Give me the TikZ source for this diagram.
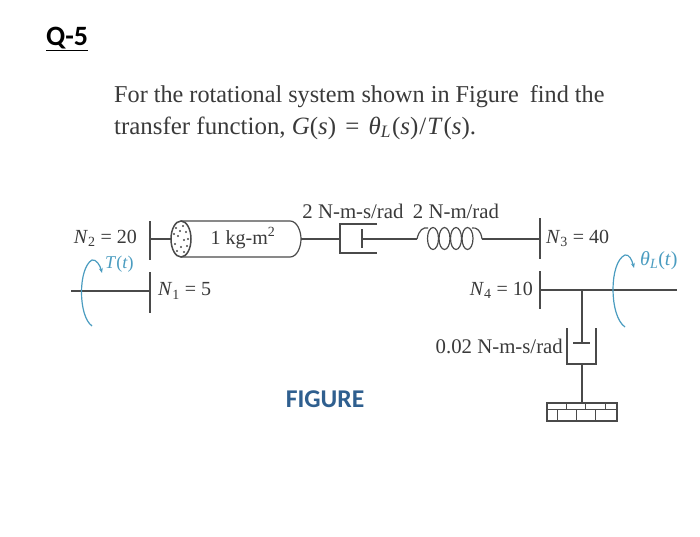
\documentclass[tikz,border=0pt]{standalone}
\usepackage{fontspec}
\setmainfont{Liberation Serif}
\newfontfamily\headfont{Carlito}
\usetikzlibrary{arrows.meta}
\definecolor{shaftgray}{HTML}{4A4A4A}
\definecolor{textgray}{HTML}{3A3A3A}
\definecolor{torqueblue}{HTML}{4A9CC0}
\definecolor{figblue}{HTML}{2F5F8F}
\begin{document}
\begin{tikzpicture}[
                x=1pt, y=-1pt, % pixel coordinates of the page
                every node/.style={inner sep=0pt, text=textgray},
                part/.style={draw=shaftgray, line width=1.2pt}, % Shafts, gears, dampers
                thinpart/.style={draw=shaftgray, line width=0.8pt}, % Bricks
                torque/.style={draw=torqueblue, line width=1.2pt, -{Stealth[length=5pt, width=4pt]}}, % Curved arrows
                bodytext/.style={anchor=west, font=\fontsize{24.2}{28}\selectfont},
                label/.style={font=\fontsize{20}{22}\selectfont},
                widelabel/.style={font=\fontsize{20.8}{22}\selectfont}
                ]
                \useasboundingbox (0,0) rectangle (700,537);
                \fill[white] (0,0) rectangle (700,537);
                % Texts
                \node[anchor=west, text=black, font=\headfont\bfseries\fontsize{28}{30}\selectfont] (title) at (46,39) {\underline{Q-5}};
                \node[bodytext] (line one) at (114,97) {For the rotational system shown in Figure\hspace{5pt} find the};
                \node[bodytext, font=\fontsize{24.9}{28}\selectfont] (line two) at (114,128) {transfer function, \textit{G}(\textit{s})\hspace{3pt} = \hspace{3pt}\textit{θ}\textsubscript{\textit{L}}\hspace{1pt}(\textit{s})\hspace{1pt}/\hspace{1pt}\textit{T}\hspace{1pt}(\textit{s}).};
                \node[text=figblue, font=\headfont\bfseries\fontsize{25.6}{27}\selectfont] (figure) at (325,399) {FIGURE};
                \node[label, anchor=east] (n two) at (137,238) {\textit{N}\textsubscript{2} = 20};
                \node[label, anchor=west] (n one) at (158,291) {\textit{N}\textsubscript{1} = 5};
                \node[label, anchor=east] (n four) at (533,290) {\textit{N}\textsubscript{4} = 10};
                \node[label, anchor=west] (n three) at (546,238) {\textit{N}\textsubscript{3} = 40};
                \node[label] (inertia) at (243,238) {1 kg-m\textsuperscript{2}};
                \node[widelabel] (damper one) at (353,211) {2 N-m-s/rad};
                \node[widelabel] (spring one) at (456,211) {2 N-m/rad};
                \node[widelabel, anchor=east] (damper two) at (563,346) {0.02 N-m-s/rad};
                \node[text=torqueblue, font=\fontsize{18}{20}\selectfont, anchor=west] (torque t) at (105,264) {\textit{T}(\textit{t})};
                \node[text=torqueblue, font=\fontsize{20}{22}\selectfont, anchor=west] (theta l) at (640,261) {\textit{θ}\textsubscript{\textit{L}}(\textit{t})};
                % Points on the shafts
                \coordinate (gear two) at (150,239);
                \coordinate (drum left) at (181,239);
                \coordinate (drum right) at (301,239);
                \coordinate (cup one) at (340,239);
                \coordinate (piston one) at (362,239);
                \coordinate (coil in) at (417,239);
                \coordinate (coil out) at (482,239);
                \coordinate (gear three) at (540,239);
                \coordinate (gear four) at (540,290);
                \coordinate (shaft end) at (677,290);
                \coordinate (tee) at (582,290);
                \coordinate (piston two) at (582,343);
                \coordinate (cup two) at (582,364);
                \coordinate (wall) at (582,403);
                \coordinate (gear one) at (150,291);
                \coordinate (shaft start) at (71,291);
                % Gears
                \draw[part] (150,221) -- (150,260);
                \draw[part] (150,272) -- (150,313);
                \draw[part] (540,218) -- (540,259);
                \draw[part] (540,271) -- (540,309);
                % Shafts
                \draw[part] (shaft start) -- (gear one);
                \draw[part] (gear two) -- (drum left);
                \draw[part] (drum right) -- (cup one);
                \draw[part] (piston one) -- (coil in);
                \draw[part] (coil out) -- (gear three);
                \draw[part] (gear four) -- (shaft end);
                \draw[part] (tee) -- (piston two);
                \draw[part] (cup two) -- (wall);
                % Inertia
                \draw[part] (181,221) -- (290,221) .. controls (297,221) and (301,231) .. (drum right) .. controls (301,247) and (297,257) .. (290,257) -- (181,257);
                \draw[part, line width=1.5pt, fill=white] (drum left) ellipse (10 and 18);
                \foreach \dotx/\doty in {176/228, 183/226, 186/232, 178/236, 184/240, 175/244, 181/247, 187/246, 177/251, 184/252, 174/234, 180/231, 188/239}
                    \fill[shaftgray] (\dotx,\doty) circle (1.2);
                % Damper 1
                \draw[part] (377,224) -- (340,224) -- (340,253) -- (377,253);
                \draw[part] (362,229) -- (362,248);
                % Spring
                \draw[part] (coil in) .. controls (419,230) and (423,227) .. (428,228);
                \draw[part] (472,228) .. controls (477,227) and (481,231) .. (coil out);
                \foreach \coilx in {433, 444.5, 456, 467.5}
                    \draw[part] (\coilx,238.5) ellipse (5.5 and 11);
                % Damper 2
                \draw[part] (567,328) -- (567,364) -- (596,364) -- (596,328);
                \draw[part] (573,343) -- (590,343);
                % Wall
                \draw[part] (547,403) rectangle (617,421);
                \draw[thinpart] (547,409) -- (617,409);
                \foreach \brickx in {566, 585, 605}
                    \draw[thinpart] (\brickx,403) -- (\brickx,409);
                \foreach \brickx in {557, 576, 595}
                    \draw[thinpart] (\brickx,409) -- (\brickx,421);
                % Torque arrows
                \draw[torque] (92,326) .. controls (78,316) and (78,268) .. (92,260) .. controls (96,259) and (100,265) .. (102,273);
                \draw[torque] (625,327) .. controls (609,316) and (609,262) .. (625,255) .. controls (629,254) and (632,260) .. (634,268);
            \end{tikzpicture}
\end{document}
